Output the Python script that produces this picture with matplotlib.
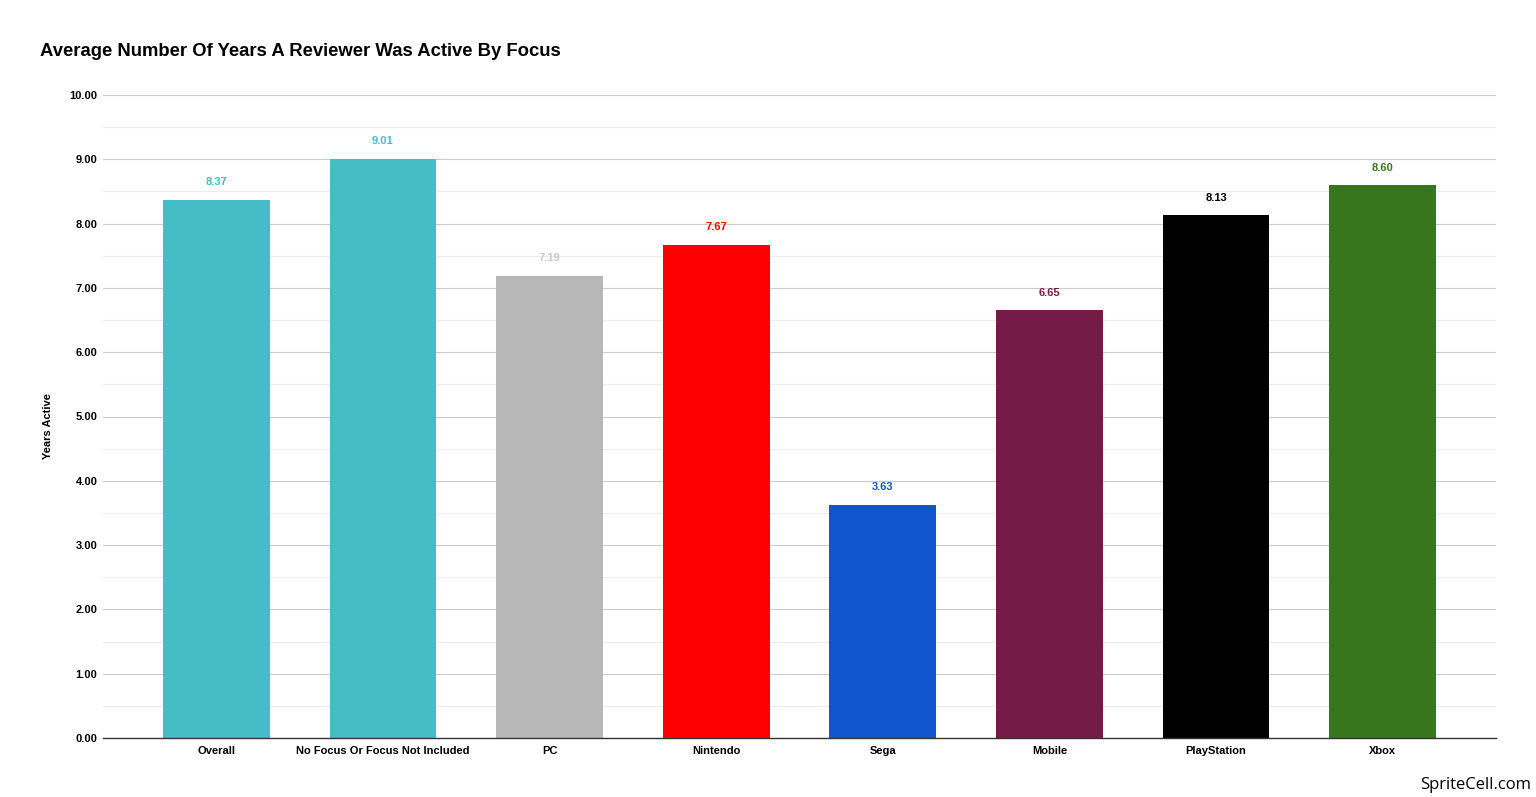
import matplotlib
matplotlib.use("Agg")
import matplotlib.pyplot as plt
import numpy as np

categories = ["Overall", "No Focus Or Focus Not Included", "PC", "Nintendo",
              "Sega", "Mobile", "PlayStation", "Xbox"]
values = [8.37, 9.01, 7.19, 7.67, 3.63, 6.65, 8.13, 8.60]
bar_colors = ["#46bdc6", "#46bdc6", "#b7b7b7", "#ff0000",
              "#1155cc", "#741b47", "#000000", "#38761d"]
label_colors = ["#46bdc6", "#46bdc6", "#c8c8c8", "#ff0000",
                "#1155cc", "#741b47", "#000000", "#38761d"]
yticks = [0, 1, 2, 3, 4, 5, 6, 7, 8, 9, 10]

plt.rcParams['font.family'] = ['Liberation Sans', 'DejaVu Sans']

fig = plt.figure(figsize=(15.36, 7.97), dpi=100)
ax = fig.add_axes([103 / 1536, 1 - 738 / 797, (1496 - 103) / 1536, (738 - 95) / 797])

x = np.arange(len(categories))
ax.bar(x, values, width=0.64, color=bar_colors, zorder=3)

for xi, v, c in zip(x, values, label_colors):
    ax.annotate(f"{v:.2f}", (xi, v), xytext=(0, 9), textcoords="offset points",
                ha="center", va="bottom", fontsize=8, fontweight="bold", color=c)

ax.set_xlim(-0.68, len(categories) - 1 + 0.68)
ax.set_ylim(0, 10)
ax.set_yticks(yticks)
ax.set_yticklabels([f"{t:.2f}" for t in yticks], fontsize=8, fontweight="bold")
ax.set_yticks(np.arange(0.5, 10, 1), minor=True)
ax.set_xticks(x)
ax.set_xticklabels(categories, fontsize=8, fontweight="bold")

ax.grid(axis="y", which="major", color="#cccccc", linewidth=0.8, zorder=0)
ax.grid(axis="y", which="minor", color="#ececec", linewidth=0.8, zorder=0)
ax.tick_params(axis="both", which="both", length=0)
ax.tick_params(axis="y", pad=4)
ax.tick_params(axis="x", pad=6)
for s in ["top", "right", "left"]:
    ax.spines[s].set_visible(False)
ax.spines["bottom"].set_color("#333333")
ax.spines["bottom"].set_linewidth(1.0)
ax.spines["bottom"].set_zorder(4)

ax.set_ylabel("Years Active", fontsize=8, fontweight="bold")
ax.yaxis.set_label_coords(-0.036, 0.485)

fig.text(40 / 1536, 1 - 51 / 797, "Average Number Of Years A Reviewer Was Active By Focus",
         fontsize=13.3, fontweight="bold", ha="left", va="center")
fig.text(1531 / 1536, 1 - 785 / 797, "SpriteCell.com", fontsize=12,
         family=["Open Sans", "DejaVu Sans"], ha="right", va="center")

fig.savefig("out.png", dpi=100)
